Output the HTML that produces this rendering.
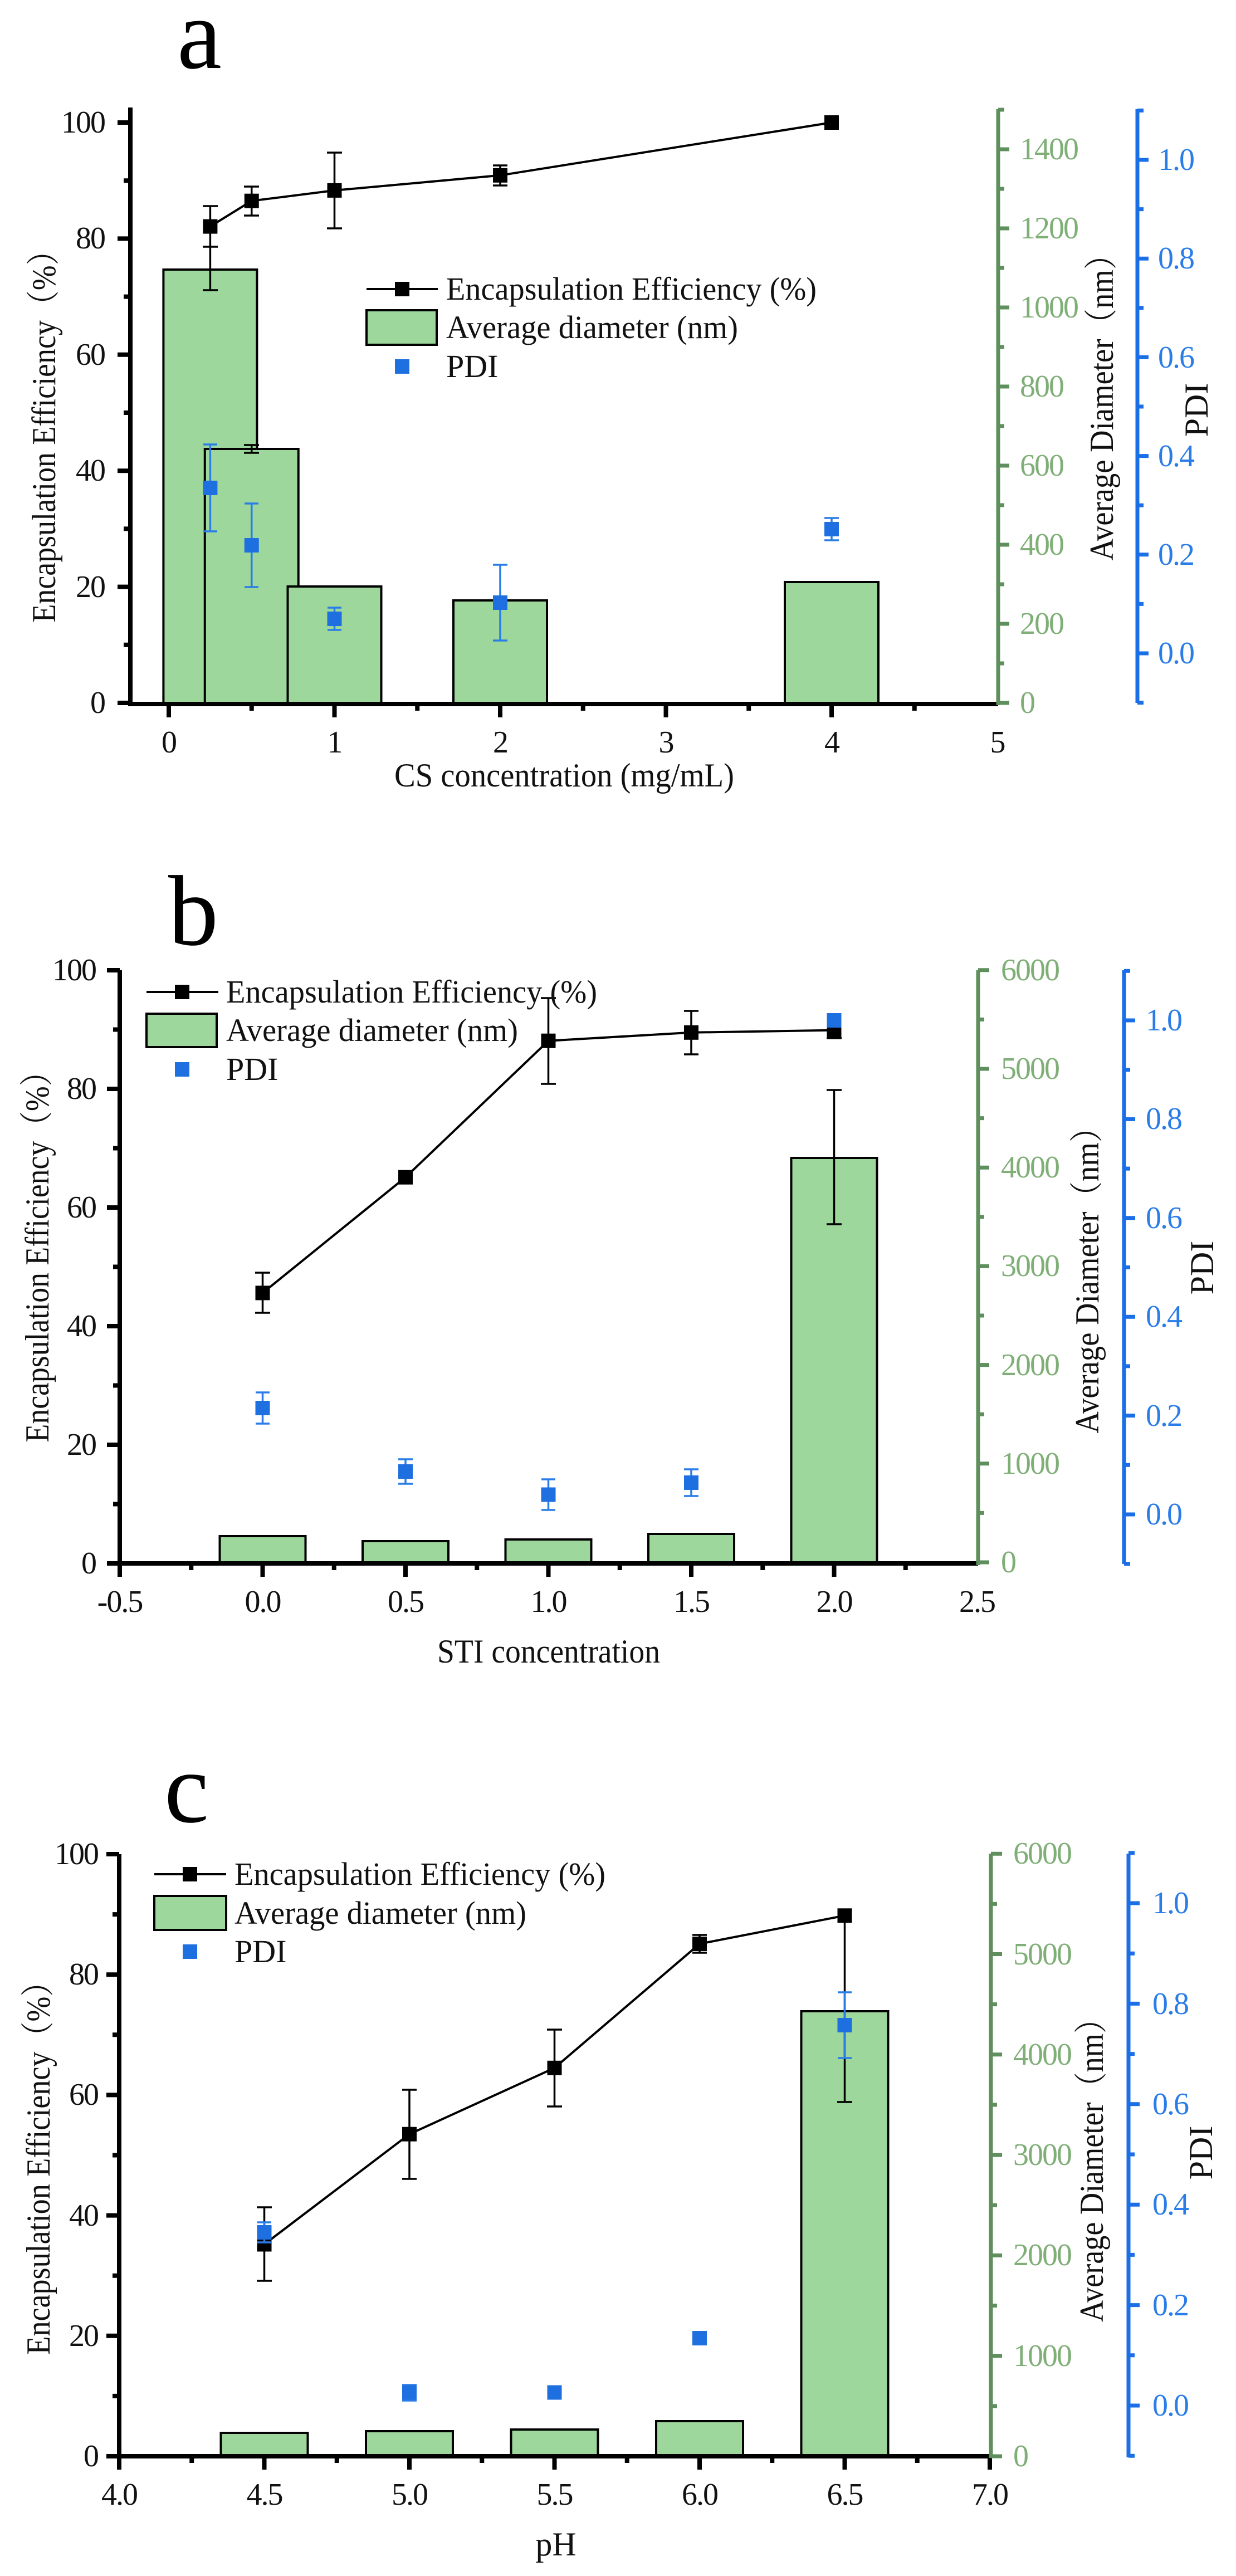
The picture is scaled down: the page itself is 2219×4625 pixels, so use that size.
<!DOCTYPE html>
<html><head><meta charset="utf-8"><style>
html,body{margin:0;padding:0;background:#fff;}
svg{display:block;}
text{font-family:"Liberation Serif","Noto Serif CJK SC",serif;}
.tl{font-size:56px;letter-spacing:-2px;fill:#111;}
.gl{font-size:56px;letter-spacing:-2px;fill:#7fae77;}
.bl{font-size:56px;letter-spacing:-2px;fill:#2a7de8;}
.lg{font-size:58px;fill:#111;}
.ti{font-size:60px;fill:#111;}
.big{font-size:180px;fill:#000;}
.bar{fill:#9dd79b;stroke:#000;stroke-width:4;}
.ax{stroke:#000;stroke-width:8;fill:none;}
.gax{stroke:#5e8f5c;stroke-width:7;fill:none;}
.bax{stroke:#1a6ee6;stroke-width:7;fill:none;}
.ln{stroke:#000;stroke-width:4;fill:none;}
.er{stroke:#000;stroke-width:3.5;fill:none;}
.pe{stroke:#2a7de8;stroke-width:3.5;fill:none;}
.mk{fill:#000;}
.pm{fill:#1e6fe0;}
</style></head><body>
<svg width="2219" height="4625" viewBox="0 0 2219 4625" xmlns="http://www.w3.org/2000/svg">
<rect width="2219" height="4625" fill="#fff"/>

<!-- ================= PANEL A ================= -->
<text class="big" x="358" y="122" text-anchor="middle">a</text>
<!-- bars -->
<rect class="bar" x="293.4" y="484" width="168" height="778"/>
<rect class="bar" x="367.75" y="806" width="168" height="456"/>
<rect class="bar" x="516.5" y="1053" width="168" height="209"/>
<rect class="bar" x="814" y="1078" width="168" height="184"/>
<rect class="bar" x="1409" y="1045" width="168" height="217"/>
<!-- bar errors -->
<path class="er" d="M377.4 443V521M364 521H391M451.75 799V813M438 799H465M438 813H465M587 1053H614M1480 1045H1506"/>
<!-- axes -->
<path class="ax" d="M234 193V1268M230 1264H1792"/>
<path class="ax" d="M211 1262H234M211 1053.6H234M211 845.2H234M211 636.8H234M211 428.4H234M211 220H234M222 1157.8H234M222 949.4H234M222 741H234M222 532.6H234M222 324.2H234"/>
<path class="ax" d="M303 1264V1288M600.5 1264V1288M898 1264V1288M1195.5 1264V1288M1493 1264V1288M451.75 1264V1276M749.25 1264V1276M1046.75 1264V1276M1344.25 1264V1276M1641.75 1264V1276"/>
<g class="tl" text-anchor="end"><text x="188" y="1280">0</text><text x="188" y="1072">20</text><text x="188" y="863">40</text><text x="188" y="655">60</text><text x="188" y="446">80</text><text x="188" y="238">100</text></g>
<g class="tl" text-anchor="middle"><text x="303" y="1351">0</text><text x="600.5" y="1351">1</text><text x="898" y="1351">2</text><text x="1195.5" y="1351">3</text><text x="1493" y="1351">4</text><text x="1790.5" y="1351">5</text></g>
<path class="gax" d="M1792 196V1266M1792 1262H1812M1792 1120H1812M1792 978H1812M1792 836H1812M1792 694H1812M1792 552H1812M1792 410H1812M1792 268H1812M1792 1191H1803M1792 1049H1803M1792 907H1803M1792 765H1803M1792 623H1803M1792 481H1803M1792 339H1803M1792 197H1803"/>
<g class="gl"><text x="1831" y="1280">0</text><text x="1831" y="1138">200</text><text x="1831" y="996">400</text><text x="1831" y="854">600</text><text x="1831" y="712">800</text><text x="1831" y="570">1000</text><text x="1831" y="428">1200</text><text x="1831" y="286">1400</text></g>
<path class="bax" d="M2042 196V1262M2042 1173H2062M2042 995.8H2062M2042 818.6H2062M2042 641.4H2062M2042 464.2H2062M2042 287H2062M2042 1261.6H2053M2042 1084.4H2053M2042 907.2H2053M2042 730H2053M2042 552.8H2053M2042 375.6H2053M2042 198.4H2053"/>
<g class="bl"><text x="2079" y="1191">0.0</text><text x="2079" y="1014">0.2</text><text x="2079" y="837">0.4</text><text x="2079" y="660">0.6</text><text x="2079" y="482">0.8</text><text x="2079" y="305">1.0</text></g>
<!-- EE line -->
<polyline class="ln" points="377.4,406.6 451.75,360.7 600.5,341.9 898,314.8 1493,220"/>
<path class="er" d="M377.4 370V443M364 370H391M364 443H391M451.75 335V387M438 335H465M438 387H465M600.5 274V410M587 274H614M587 410H614M898 297V333M885 297H911M885 333H911M1493 215V225"/>
<g class="mk"><rect x="364.4" y="393.6" width="26" height="26"/><rect x="438.75" y="347.7" width="26" height="26"/><rect x="587.5" y="328.9" width="26" height="26"/><rect x="885" y="301.8" width="26" height="26"/><rect x="1480" y="207" width="26" height="26"/></g>
<!-- PDI -->
<path class="pe" d="M377.4 798V954M365 798H390M365 954H390M451.75 904V1054M439 904H464M439 1054H464M600.5 1091V1131M588 1091H613M588 1131H613M898 1014V1150M885 1014H911M885 1150H911M1493 930V970M1480 930H1506M1480 970H1506"/>
<g class="pm"><rect x="364.4" y="863" width="26" height="26"/><rect x="438.75" y="966" width="26" height="26"/><rect x="587.5" y="1098" width="26" height="26"/><rect x="885" y="1069" width="26" height="26"/><rect x="1480" y="937" width="26" height="26"/></g>
<!-- legend -->
<path class="ln" d="M658 519H786"/><rect class="mk" x="709" y="506" width="26" height="26"/>
<text class="lg" x="801" y="538" textLength="665" lengthAdjust="spacingAndGlyphs">Encapsulation Efficiency (%)</text>
<rect class="bar" x="658" y="557" width="126" height="62"/>
<text class="lg" x="801" y="607" textLength="524" lengthAdjust="spacingAndGlyphs">Average diameter (nm)</text>
<rect class="pm" x="709" y="645" width="26" height="26"/>
<text class="lg" x="801" y="677">PDI</text>
<!-- titles -->
<text class="ti" transform="translate(99,770) rotate(-90)" text-anchor="middle" textLength="695" lengthAdjust="spacingAndGlyphs">Encapsulation Efficiency（%）</text>
<text class="ti" transform="translate(1998,718) rotate(-90)" text-anchor="middle" textLength="577" lengthAdjust="spacingAndGlyphs">Average Diameter（nm）</text>
<text class="ti" transform="translate(2168,736) rotate(-90)" text-anchor="middle">PDI</text>
<text class="ti" x="1013" y="1412" text-anchor="middle" textLength="610" lengthAdjust="spacingAndGlyphs">CS concentration (mg/mL)</text>

<!-- ================= PANEL B ================= -->
<text class="big" x="347" y="1696" text-anchor="middle">b</text>
<rect class="bar" x="394.5" y="2758" width="154" height="47"/>
<rect class="bar" x="651" y="2767" width="154" height="38"/>
<rect class="bar" x="907.5" y="2764" width="154" height="41"/>
<rect class="bar" x="1164" y="2754" width="154" height="51"/>
<rect class="bar" x="1420.5" y="2079" width="154" height="726"/>
<path class="er" d="M1497.5 1957V2198M1484 1957H1511M1484 2198H1511M458 2758H485"/>
<path class="ax" d="M215 1742V2811M211 2807H1756"/>
<path class="ax" d="M192 2807H215M192 2594H215M192 2381H215M192 2168H215M192 1955H215M192 1742H215M203 2700.5H215M203 2487.5H215M203 2274.5H215M203 2061.5H215M203 1848.5H215"/>
<path class="ax" d="M471.5 2807V2831M728 2807V2831M984.5 2807V2831M1241 2807V2831M1497.5 2807V2831M343.25 2807V2819M599.75 2807V2819M856.25 2807V2819M1112.75 2807V2819M1369.25 2807V2819M1625.75 2807V2819M215 2807V2831"/>
<g class="tl" text-anchor="end"><text x="172" y="2825">0</text><text x="172" y="2612">20</text><text x="172" y="2399">40</text><text x="172" y="2186">60</text><text x="172" y="1973">80</text><text x="172" y="1760">100</text></g>
<g class="tl" text-anchor="middle"><text x="215" y="2894">-0.5</text><text x="471.5" y="2894">0.0</text><text x="728" y="2894">0.5</text><text x="984.5" y="2894">1.0</text><text x="1241" y="2894">1.5</text><text x="1497.5" y="2894">2.0</text><text x="1754" y="2894">2.5</text></g>
<path class="gax" d="M1756 1742V2810M1756 2805H1776M1756 2627.8H1776M1756 2450.6H1776M1756 2273.4H1776M1756 2096.2H1776M1756 1919H1776M1756 1741.8H1776M1756 2716.4H1767M1756 2539.2H1767M1756 2362H1767M1756 2184.8H1767M1756 2007.6H1767M1756 1830.4H1767"/>
<g class="gl"><text x="1797" y="2823">0</text><text x="1797" y="2646">1000</text><text x="1797" y="2469">2000</text><text x="1797" y="2291">3000</text><text x="1797" y="2114">4000</text><text x="1797" y="1937">5000</text><text x="1797" y="1760">6000</text></g>
<path class="bax" d="M2018 1742V2808M2018 2719H2038M2018 2541.6H2038M2018 2364.2H2038M2018 2186.8H2038M2018 2009.4H2038M2018 1832H2038M2018 2807.7H2029M2018 2630.3H2029M2018 2452.9H2029M2018 2275.5H2029M2018 2098.1H2029M2018 1920.7H2029M2018 1743.3H2029"/>
<g class="bl"><text x="2057" y="2737">0.0</text><text x="2057" y="2560">0.2</text><text x="2057" y="2382">0.4</text><text x="2057" y="2205">0.6</text><text x="2057" y="2027">0.8</text><text x="2057" y="1850">1.0</text></g>
<polyline class="ln" points="471.5,2321.4 728,2113.7 984.5,1868.7 1241,1853.8 1497.5,1849.6"/>
<path class="er" d="M471.5 2285V2357M458 2285H485M458 2357H485M728 2104V2124M715 2104H741M715 2124H741M984.5 1792V1946M971 1792H998M971 1946H998M1241 1815V1893M1228 1815H1254M1228 1893H1254M1497.5 1836V1864M1484 1864H1511"/>
<g class="mk"><rect x="458.5" y="2308.4" width="26" height="26"/><rect x="715" y="2100.7" width="26" height="26"/><rect x="971.5" y="1855.7" width="26" height="26"/><rect x="1228" y="1840.8" width="26" height="26"/><rect x="1484.5" y="1836.6" width="26" height="26"/></g>
<path class="pe" d="M471.5 2500V2556M459 2500H484M459 2556H484M728 2620V2664M715 2620H741M715 2664H741M984.5 2656V2711M972 2656H997M972 2711H997M1241 2638V2686M1228 2638H1254M1228 2686H1254"/>
<g class="pm"><rect x="458.5" y="2515" width="26" height="26"/><rect x="715" y="2629" width="26" height="26"/><rect x="971.5" y="2670.5" width="26" height="26"/><rect x="1228" y="2649" width="26" height="26"/><rect x="1484.5" y="1819" width="26" height="26"/></g>
<path class="ln" d="M263 1781H392"/><rect class="mk" x="314" y="1768" width="26" height="26"/>
<text class="lg" x="406" y="1800" textLength="666" lengthAdjust="spacingAndGlyphs">Encapsulation Efficiency (%)</text>
<rect class="bar" x="263" y="1820" width="126" height="60"/>
<text class="lg" x="406" y="1869" textLength="524" lengthAdjust="spacingAndGlyphs">Average diameter (nm)</text>
<rect class="pm" x="314" y="1907" width="26" height="26"/>
<text class="lg" x="406" y="1939">PDI</text>
<text class="ti" transform="translate(87,2243) rotate(-90)" text-anchor="middle" textLength="693" lengthAdjust="spacingAndGlyphs">Encapsulation Efficiency（%）</text>
<text class="ti" transform="translate(1972,2285) rotate(-90)" text-anchor="middle" textLength="577" lengthAdjust="spacingAndGlyphs">Average Diameter（nm）</text>
<text class="ti" transform="translate(2178,2276) rotate(-90)" text-anchor="middle">PDI</text>
<text class="ti" x="985" y="2985" text-anchor="middle" textLength="400" lengthAdjust="spacingAndGlyphs">STI concentration</text>

<!-- ================= PANEL C ================= -->
<text class="big" x="335" y="3271" text-anchor="middle">c</text>
<rect class="bar" x="396.5" y="4368" width="156" height="42"/>
<rect class="bar" x="657" y="4365" width="156" height="45"/>
<rect class="bar" x="917.5" y="4362" width="156" height="48"/>
<rect class="bar" x="1178" y="4347" width="156" height="63"/>
<rect class="bar" x="1438.5" y="3611" width="156" height="799"/>
<path class="ax" d="M214 3329V4414M210 4410H1779"/>
<path class="ax" d="M191 4410H214M191 4193.8H214M191 3977.6H214M191 3761.4H214M191 3545.2H214M191 3329H214M202 4301.9H214M202 4085.7H214M202 3869.5H214M202 3653.3H214M202 3437.1H214"/>
<path class="ax" d="M214 4410V4434M474.5 4410V4434M735 4410V4434M995.5 4410V4434M1256 4410V4434M1516.5 4410V4434M1777 4410V4434M344.25 4410V4422M604.75 4410V4422M865.25 4410V4422M1125.75 4410V4422M1386.25 4410V4422M1646.75 4410V4422"/>
<g class="tl" text-anchor="end"><text x="176" y="4428">0</text><text x="176" y="4212">20</text><text x="176" y="3996">40</text><text x="176" y="3779">60</text><text x="176" y="3563">80</text><text x="176" y="3347">100</text></g>
<g class="tl" text-anchor="middle"><text x="214" y="4497">4.0</text><text x="474.5" y="4497">4.5</text><text x="735" y="4497">5.0</text><text x="995.5" y="4497">5.5</text><text x="1256" y="4497">6.0</text><text x="1516.5" y="4497">6.5</text><text x="1777" y="4497">7.0</text></g>
<path class="gax" d="M1779 3328V4413M1779 4410H1799M1779 4229.7H1799M1779 4049.4H1799M1779 3869.1H1799M1779 3688.8H1799M1779 3508.5H1799M1779 3328.2H1799M1779 4319.85H1790M1779 4139.55H1790M1779 3959.25H1790M1779 3778.95H1790M1779 3598.65H1790M1779 3418.35H1790"/>
<g class="gl"><text x="1819" y="4428">0</text><text x="1819" y="4248">1000</text><text x="1819" y="4067">2000</text><text x="1819" y="3887">3000</text><text x="1819" y="3707">4000</text><text x="1819" y="3527">5000</text><text x="1819" y="3346">6000</text></g>
<path class="bax" d="M2026 3328V4412M2026 4319H2046M2026 4138.6H2046M2026 3958.2H2046M2026 3777.8H2046M2026 3597.4H2046M2026 3417H2046M2026 4409.2H2037M2026 4228.8H2037M2026 4048.4H2037M2026 3868H2037M2026 3687.6H2037M2026 3507.2H2037M2026 3326.8H2037"/>
<g class="bl"><text x="2069" y="4337">0.0</text><text x="2069" y="4157">0.2</text><text x="2069" y="3976">0.4</text><text x="2069" y="3796">0.6</text><text x="2069" y="3616">0.8</text><text x="2069" y="3435">1.0</text></g>
<polyline class="ln" points="474.5,4029.5 735,3831.7 995.5,3712.8 1256,3490 1516.5,3439.3"/>
<path class="er" d="M474.5 3963V4095M461 3963H488M461 4095H488M735 3752V3912M722 3752H748M722 3912H748M995.5 3644V3782M982 3644H1009M982 3782H1009M1256 3474V3506M1243 3474H1269M1243 3506H1269M1516.5 3439V3774M1503 3774H1530"/>
<g class="mk"><rect x="461.5" y="4016.5" width="26" height="26"/><rect x="722" y="3818.7" width="26" height="26"/><rect x="982.5" y="3699.8" width="26" height="26"/><rect x="1243" y="3477" width="26" height="26"/><rect x="1503.5" y="3426.3" width="26" height="26"/></g>
<path class="pe" d="M474.5 3990V4026M462 3990H487M462 4026H487M735 4282V4310M722 4282H748M722 4310H748M1516.5 3577V3695M1504 3577H1529M1504 3695H1529"/>
<g class="pm"><rect x="461.5" y="3995" width="26" height="26"/><rect x="722" y="4282.5" width="26" height="26"/><rect x="982.5" y="4282.5" width="26" height="26"/><rect x="1243" y="4185" width="26" height="26"/><rect x="1503.5" y="3623" width="26" height="26"/></g>
<path class="ln" d="M277 3365H406"/><rect class="mk" x="328" y="3352" width="26" height="26"/>
<text class="lg" x="421" y="3384" textLength="666" lengthAdjust="spacingAndGlyphs">Encapsulation Efficiency (%)</text>
<rect class="bar" x="277" y="3404" width="129" height="61"/>
<text class="lg" x="421" y="3454" textLength="524" lengthAdjust="spacingAndGlyphs">Average diameter (nm)</text>
<rect class="pm" x="328" y="3491" width="26" height="26"/>
<text class="lg" x="421" y="3523">PDI</text>
<text class="ti" transform="translate(89,3879) rotate(-90)" text-anchor="middle" textLength="697" lengthAdjust="spacingAndGlyphs">Encapsulation Efficiency（%）</text>
<text class="ti" transform="translate(1980,3883) rotate(-90)" text-anchor="middle" textLength="572" lengthAdjust="spacingAndGlyphs">Average Diameter（nm）</text>
<text class="ti" transform="translate(2176,3865) rotate(-90)" text-anchor="middle">PDI</text>
<text class="ti" x="998" y="4588" text-anchor="middle">pH</text>
</svg>
</body></html>
